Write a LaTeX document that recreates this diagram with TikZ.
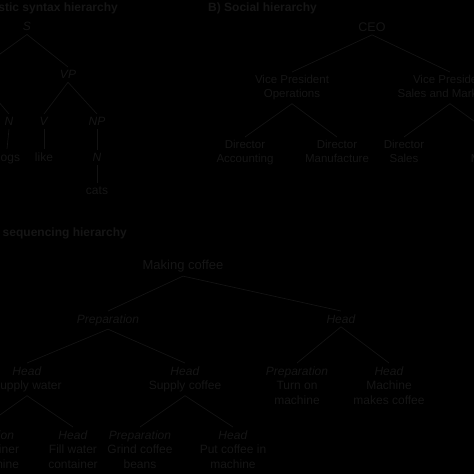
\documentclass[tikz,border=0pt]{standalone}
\usepackage{fontspec}
\setmainfont{Liberation Sans}
\definecolor{ink}{RGB}{21,21,21}
\definecolor{wire}{RGB}{19,19,19}
\tikzset{
  lbl/.style={text=ink, inner sep=0pt, outer sep=3.5pt, anchor=north, align=center,
              font=\fontsize{12}{14.5}\selectfont},
  soc/.style={lbl, font=\fontsize{11.5}{14}\selectfont},
  ttl/.style={text=ink, inner sep=0pt, font=\bfseries\fontsize{12}{14}\selectfont},
  edge/.style={draw=wire, line width=0.7pt},
}
\begin{document}
\begin{tikzpicture}[x=1pt,y=-1pt]
\useasboundingbox (0,0) rectangle (474,474);
\fill[black] (0,0) rectangle (474,474);
\clip (0,0) rectangle (474,474);

% titles
\node[ttl, anchor=base east] (tA) at (118,11) {A) Linguistic syntax hierarchy};
\node[ttl, anchor=base west] (tB) at (208,11) {B) Social hierarchy};
\node[ttl, anchor=base east] (tC) at (127,236) {C) Action sequencing hierarchy};

% A) syntax tree
\node[lbl] (S) at (27,19) {\textit{S}};
\node[lbl] (NPl) at (-18,67) {\textit{NP}};
\node[lbl] (VP) at (68,67) {\textit{VP}};
\node[lbl] (Nl) at (9,114) {\textit{N}};
\node[lbl] (V) at (44,114) {\textit{V}};
\node[lbl] (NP) at (97,114) {\textit{NP}};
\node[lbl] (dogs) at (7,149) {dogs};
\node[lbl] (like) at (44,149) {like};
\node[lbl] (N) at (97,150) {\textit{N}};
\node[lbl] (cats) at (97,183) {cats};
\foreach \a/\b in {S/NPl, S/VP, NPl/Nl, Nl/dogs, VP/V, VP/NP, V/like, NP/N, N/cats}
  \draw[edge] (\a.south) -- (\b.north);

% B) social hierarchy
\node[soc, font=\fontsize{12.5}{14}\selectfont] (CEO) at (372,19) {CEO};
\node[soc] (VPO) at (292,72) {Vice President\\Operations};
\node[soc] (VPS) at (450,72) {Vice President\\Sales and Marketing};
\node[soc] (DA) at (245,137) {Director\\Accounting};
\node[soc] (DM) at (337,137) {Director\\Manufacture};
\node[soc] (DS) at (404,137) {Director\\Sales};
\node[soc] (DMk) at (496,137) {Director\\Marketing};
\foreach \a/\b in {CEO/VPO, CEO/VPS, VPO/DA, VPO/DM, VPS/DS, VPS/DMk}
  \draw[edge] (\a.south) -- (\b.north);

% C) action sequencing hierarchy
\node[lbl, font=\fontsize{13}{15}\selectfont] (MC) at (183,257) {Making coffee};
\node[lbl] (P1) at (108,311) {\textit{Preparation}};
\node[lbl] (H1) at (341,311) {\textit{Head}};
\node[lbl] (HSW) at (27,363) {\textit{Head}\\Supply water};
\node[lbl] (HSC) at (185,363) {\textit{Head}\\Supply coffee};
\node[lbl] (PTM) at (297,363) {\textit{Preparation}\\Turn on\\machine};
\node[lbl] (HMM) at (389,363) {\textit{Head}\\Machine\\makes coffee};
\node[lbl] (PPC) at (-17,427) {\textit{Preparation}\\Get container\\onto machine};
\node[lbl] (HFW) at (73,427) {\textit{Head}\\Fill water\\container};
\node[lbl] (PGC) at (140,427) {\textit{Preparation}\\Grind coffee\\beans};
\node[lbl] (HPC) at (233,427) {\textit{Head}\\Put coffee in\\machine};
\foreach \a/\b in {MC/P1, MC/H1, P1/HSW, P1/HSC, H1/PTM, H1/HMM, HSW/PPC, HSW/HFW, HSC/PGC, HSC/HPC}
  \draw[edge] (\a.south) -- (\b.north);
\end{tikzpicture}
\end{document}
